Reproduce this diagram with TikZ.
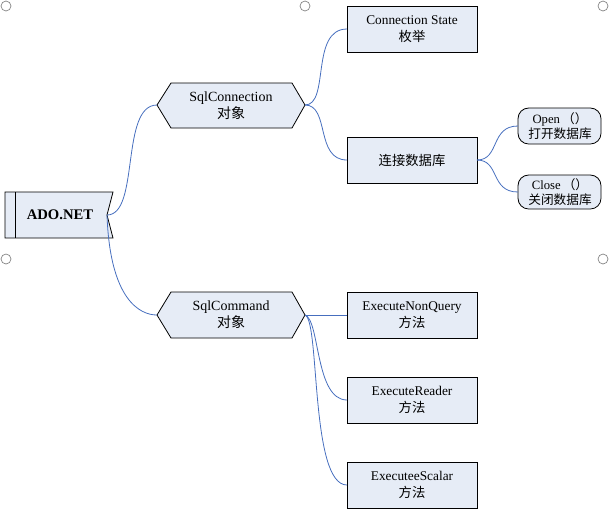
\documentclass[tikz,border=0pt]{standalone}
\usepackage{fontspec}
\setmainfont{Liberation Serif}
\newfontfamily\cjk{Noto Sans CJK SC}
\usetikzlibrary{shapes.misc}
\definecolor{boxfill}{RGB}{230,236,246}
\definecolor{link}{RGB}{70,110,190}
\tikzset{
 rectbox/.style={draw=black,fill=boxfill,line width=0.6pt},
 lbl/.style={font=\fontsize{10}{12.5}\selectfont,align=center},
 conn/.style={draw=link,line width=0.6pt},
 handle/.style={draw=gray,fill=white,line width=0.5pt}
}
\begin{document}
\begin{tikzpicture}[x=0.75pt,y=-0.75pt]
\useasboundingbox (0,0) rectangle (609,512);
% ADO.NET
\draw[rectbox] (5,192) -- (113,192) -- (107,215) -- (113,238) -- (5,238) -- cycle;
\draw (15,192) -- (15,238);
\node[font=\bfseries\fontsize{11}{12}\selectfont] (ado) at (60,215) {ADO.NET};
\coordinate (adoR) at (107,215);
% hexagons
\draw[rectbox] (157,105) -- (171,83) -- (292,83) -- (305,105) -- (292,128) -- (171,128) -- cycle;
\node[lbl,font=\fontsize{10.5}{13}\selectfont] (conn) at (231,106) {SqlConnection\\{\cjk 对象}};
\coordinate (connL) at (157,105); \coordinate (connR) at (305,105);
\draw[rectbox] (157,315) -- (171,292) -- (292,292) -- (305,315) -- (292,338) -- (171,338) -- cycle;
\node[lbl,font=\fontsize{10.5}{13}\selectfont] (cmd) at (231,315) {SqlCommand\\{\cjk 对象}};
\coordinate (cmdL) at (157,315); \coordinate (cmdR) at (305,315);
% right boxes
\draw[rectbox] (347,6) rectangle (477,52);
\node[lbl] (state) at (412,29) {Connection State\\{\cjk 枚举}};
\draw[rectbox] (347,137) rectangle (477,183);
\node[lbl] (link) at (412,160) {\cjk 连接数据库};
\draw[rectbox] (347,292) rectangle (477,338);
\node[lbl] (nq) at (412,315) {ExecuteNonQuery\\{\cjk 方法}};
\draw[rectbox] (347,377) rectangle (477,423);
\node[lbl] (rd) at (412,400) {ExecuteReader\\{\cjk 方法}};
\draw[rectbox] (347,462) rectangle (477,508);
\node[lbl] (sc) at (412,485) {ExecuteeScalar\\{\cjk 方法}};
% rounded
\draw[rectbox,rounded corners=8pt] (518,108) rectangle (601,144);
\node[lbl,font=\fontsize{9.5}{11}\selectfont] (open) at (560,126) {Open\,{\cjk（）}\\{\cjk 打开数据库}};
\draw[rectbox,rounded corners=8pt] (518,175) rectangle (601,209);
\node[lbl,font=\fontsize{9.5}{11}\selectfont] (close) at (560,192) {Close\,{\cjk（）}\\{\cjk 关闭数据库}};
% connectors
\draw[conn] (adoR) .. controls (140,215) and (120,105) .. (connL);
\draw[conn] (adoR) .. controls (110,300) and (140,315) .. (cmdL);
\draw[conn] (connR) .. controls (330,105) and (310,29) .. (347,29);
\draw[conn] (connR) .. controls (330,105) and (315,160) .. (347,160);
\draw[conn] (477,160) .. controls (500,160) and (490,126) .. (518,126);
\draw[conn] (477,160) .. controls (500,160) and (490,192) .. (518,192);
\draw[conn] (cmdR) .. controls (320,315) and (330,315) .. (347,315);
\draw[conn] (cmdR) .. controls (320,320) and (315,400) .. (347,400);
\draw[conn] (cmdR) .. controls (320,320) and (310,485) .. (347,485);
% handles
\foreach \p in {(6,6),(305,6),(603,6),(6,259),(603,259)} \draw[handle] \p circle (5);
\end{tikzpicture}
\end{document}
